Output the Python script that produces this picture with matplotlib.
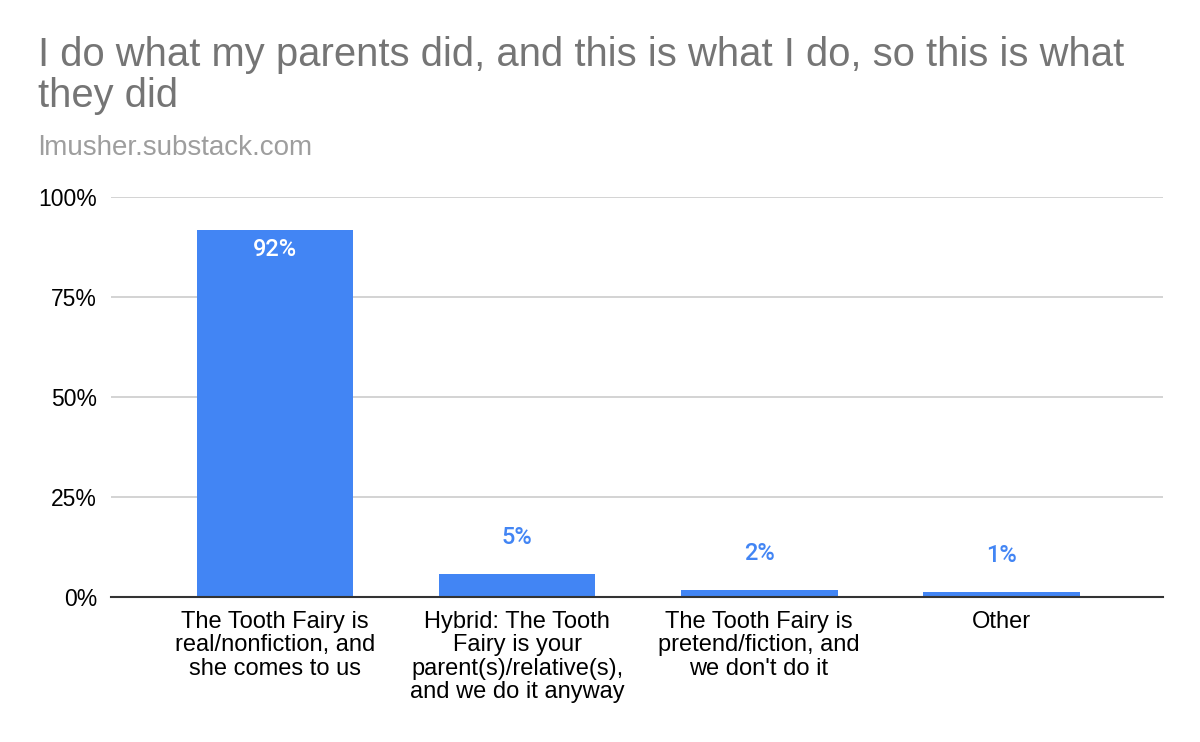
import matplotlib
matplotlib.use("Agg")
import matplotlib.pyplot as plt

plt.rcParams['font.family'] = ['Liberation Sans', 'DejaVu Sans']

# data
categories = [
    "The Tooth Fairy is\nreal/nonfiction, and\nshe comes to us",
    "Hybrid: The Tooth\nFairy is your\nparent(s)/relative(s),\nand we do it anyway",
    "The Tooth Fairy is\npretend/fiction, and\nwe don't do it",
    "Other",
]
shares = [91.75, 5.75, 1.75, 1.25]
share_labels = ["92%", "5%", "2%", "1%"]
y_ticks = [0, 25, 50, 75, 100]
y_tick_labels = ["0%", "25%", "50%", "75%", "100%"]

blue = "#4285f4"

fig = plt.figure(figsize=(12, 7.42), dpi=100)
W, H = 1200, 742
ax = fig.add_axes([111 / W, 1 - 597 / H, (1163 - 111) / W, 400 / H])

x = list(range(len(categories)))
bars = ax.bar(x, shares, width=0.648, color=blue, zorder=3)

# data labels: inside the tall bar, above the short ones
for b, lab in zip(bars, share_labels):
    h = b.get_height()
    if h > 50:
        off, col = -20, "white"
    else:
        off, col = 36, blue
    ax.annotate(lab, (b.get_x() + b.get_width() / 2, h), xytext=(0, off),
                textcoords="offset pixels", ha="center", va="center",
                color=col, fontsize=17, fontweight="medium",
                family=["Roboto", "DejaVu Sans"], zorder=4)

ax.set_xlim(-0.678, 3.669)
ax.set_ylim(0, 100)
ax.set_yticks(y_ticks)
ax.set_yticklabels(y_tick_labels, fontsize=16.5)
ax.set_xticks(x)
ax.set_xticklabels(categories, fontsize=17, linespacing=1.09)
ax.tick_params(axis="y", length=0, pad=10)
ax.tick_params(axis="x", length=0, pad=10)
ax.yaxis.grid(True, color="#cccccc", linewidth=1.2, zorder=0)
for s in ["top", "right", "left"]:
    ax.spines[s].set_visible(False)
ax.spines["bottom"].set_color("#333333")
ax.spines["bottom"].set_linewidth(1.5)
ax.spines["bottom"].set_zorder(5)

# title baseline is that of its last line
fig.text(38 / W, 1 - 107 / H, "I do what my parents did, and this is what I do, so this is what\nthey did",
         fontsize=28.8, color="#757575", va="baseline", ha="left", linespacing=1.1)
fig.text(38 / W, 1 - 155 / H, "lmusher.substack.com", fontsize=20, color="#9e9e9e",
         va="baseline", ha="left")

fig.savefig("out.png", dpi=100, facecolor="white")
